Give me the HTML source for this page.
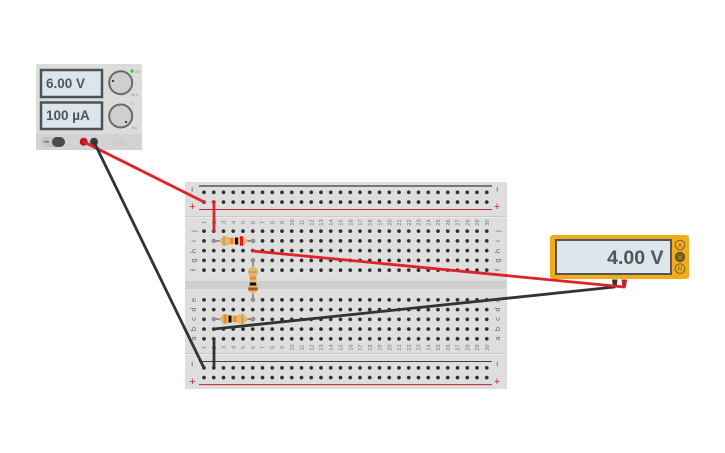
<!DOCTYPE html>
<html><head><meta charset="utf-8"><style>
html,body{margin:0;padding:0;background:#fff}
svg{display:block}
text{font-family:"Liberation Sans",sans-serif}
.n{font-size:5.5px;fill:#777}
.l{font-size:7.500px;fill:#6a6a6a}
</style></head><body>
<svg width="725" height="453" viewBox="0 0 725 453" xmlns="http://www.w3.org/2000/svg">
<defs>
<pattern id="h" x="199.1" y="187.4" width="9.75" height="9.75" patternUnits="userSpaceOnUse"><circle cx="4.9" cy="4.9" r="2.5" fill="#f4f4f4" opacity=".8"/><circle cx="4.9" cy="4.9" r="1.900" fill="#2e2e2e"/></pattern>
<pattern id="h2" x="199.1" y="226.2" width="9.75" height="9.75" patternUnits="userSpaceOnUse"><circle cx="4.9" cy="4.9" r="2.5" fill="#f4f4f4" opacity=".8"/><circle cx="4.9" cy="4.9" r="1.900" fill="#2e2e2e"/></pattern>
<pattern id="h3" x="199.1" y="294.9" width="9.75" height="9.75" patternUnits="userSpaceOnUse"><circle cx="4.9" cy="4.9" r="2.5" fill="#f4f4f4" opacity=".8"/><circle cx="4.9" cy="4.9" r="1.900" fill="#2e2e2e"/></pattern>
<pattern id="h4" x="199.1" y="362.9" width="9.75" height="9.75" patternUnits="userSpaceOnUse"><circle cx="4.9" cy="4.9" r="2.5" fill="#f4f4f4" opacity=".8"/><circle cx="4.9" cy="4.9" r="1.900" fill="#2e2e2e"/></pattern>
<g id="res"><rect x="-19.700" y="-1" width="39.400" height="2" fill="#8f8f8f"/><circle cx="-19.700" cy="0" r="2.200" fill="#8f8f8f"/><circle cx="19.700" cy="0" r="2.200" fill="#8f8f8f"/><path d="M-14.500 0L-10.500 -4.700H-6L-3.500 -3.200H3.500L6 -4.700H10.500L14.500 0L10.500 4.700H6L3.500 3.200H-3.500L-6 4.700H-10.500Z" fill="#e2b878"/></g>
</defs>

<!-- power supply -->
<rect x="36" y="64" width="106" height="86" rx="2" fill="#dcdcdc"/>
<rect x="36" y="134" width="106" height="16" fill="#d3d3d3"/>
<rect x="41" y="70" width="61" height="27" fill="#dce6ea" stroke="#4a5358" stroke-width="2.500"/>
<rect x="41" y="102.500" width="61" height="26.500" fill="#dce6ea" stroke="#4a5358" stroke-width="2.500"/>
<text x="46" y="88" font-size="13.500" font-weight="bold" fill="#4f5559">6.00 V</text>
<text x="46" y="120" font-size="13.500" font-weight="bold" fill="#4f5559">100 µA</text>
<circle cx="120.700" cy="82.700" r="11.500" fill="#cfcfcf" stroke="#6a6a6a" stroke-width="2"/>
<circle cx="113" cy="81" r="1.100" fill="#333"/>
<circle cx="120.700" cy="116" r="11.500" fill="#cfcfcf" stroke="#6a6a6a" stroke-width="2"/>
<circle cx="126" cy="122" r="1.100" fill="#333"/>
<circle cx="132" cy="71" r="1.700" fill="#3ecf3e"/>
<text x="135" y="73" font-size="3.500" fill="#888">CV</text>
<text x="130" y="105" font-size="3.500" fill="#aaa">CC</text>
<text x="131" y="96" font-size="3.500" fill="#888">30 V</text>
<text x="132" y="129" font-size="3.500" fill="#888">5 A</text>
<rect x="41" y="137" width="24" height="10" rx="5" fill="#c4c4c4"/>
<rect x="52" y="137" width="13" height="10" rx="5" fill="#4a4a4a"/>
<rect x="44" y="141" width="5" height="1.500" fill="#777"/>
<text x="114" y="142" font-size="3.500" fill="#bbb">40 DAT</text>
<text x="114" y="146" font-size="3.500" fill="#bbb">SUPPLY</text>
<circle cx="83.700" cy="141.700" r="4" fill="#b8161c"/>
<circle cx="94" cy="141.700" r="4" fill="#3d3d3d"/>

<!-- breadboard -->
<rect x="185" y="182" width="322" height="207" fill="#dedede"/>
<rect x="185" y="216" width="322" height="1" fill="#c9c9c9"/>
<rect x="185" y="217" width="322" height="1" fill="#ececec"/>
<rect x="185" y="281" width="322" height="8" fill="#cfcfcf"/>
<rect x="185" y="353" width="322" height="1" fill="#c9c9c9"/>
<rect x="185" y="354" width="322" height="1" fill="#ececec"/>
<rect x="199" y="185" width="293" height="2" fill="#777"/>
<rect x="199" y="209" width="293" height="1" fill="#b03030"/>
<rect x="199" y="361" width="293" height="1" fill="#444"/>
<rect x="199" y="384" width="293" height="1.200" fill="#c04040"/>
<rect x="199.100" y="187.400" width="292.500" height="19.500" fill="url(#h)"/>
<rect x="199.100" y="226.200" width="292.500" height="48.800" fill="url(#h2)"/>
<rect x="199.100" y="294.900" width="292.500" height="48.800" fill="url(#h3)"/>
<rect x="199.100" y="362.900" width="292.500" height="19.500" fill="url(#h4)"/>

<g fill="#444" font-size="9" text-anchor="middle">
<text transform="translate(195,189.500) rotate(-90)">−</text><text transform="translate(500,189.500) rotate(-90)">−</text><text transform="translate(195,364) rotate(-90)">−</text><text transform="translate(500,364) rotate(-90)">−</text>
</g>
<g fill="#d62828" font-size="11" text-anchor="middle">
<text x="192.300" y="210">+</text><text x="497" y="210">+</text><text x="192.300" y="385">+</text><text x="497" y="385">+</text>
</g>

<!-- column numbers -->
<g class="n" text-anchor="middle">
<text transform="translate(206,222.500) rotate(-90)">1</text><text transform="translate(216,222.500) rotate(-90)">2</text><text transform="translate(225.500,222.500) rotate(-90)">3</text><text transform="translate(235.300,222.500) rotate(-90)">4</text><text transform="translate(245,222.500) rotate(-90)">5</text><text transform="translate(254.800,222.500) rotate(-90)">6</text><text transform="translate(264.500,222.500) rotate(-90)">7</text><text transform="translate(274.300,222.500) rotate(-90)">8</text><text transform="translate(284,222.500) rotate(-90)">9</text><text transform="translate(293.800,222.500) rotate(-90)">10</text>
<text transform="translate(303.500,222.500) rotate(-90)">11</text><text transform="translate(313.300,222.500) rotate(-90)">12</text><text transform="translate(323,222.500) rotate(-90)">13</text><text transform="translate(332.800,222.500) rotate(-90)">14</text><text transform="translate(342.500,222.500) rotate(-90)">15</text><text transform="translate(352.300,222.500) rotate(-90)">16</text><text transform="translate(362,222.500) rotate(-90)">17</text><text transform="translate(371.800,222.500) rotate(-90)">18</text><text transform="translate(381.500,222.500) rotate(-90)">19</text><text transform="translate(391.300,222.500) rotate(-90)">20</text>
<text transform="translate(401,222.500) rotate(-90)">21</text><text transform="translate(410.800,222.500) rotate(-90)">22</text><text transform="translate(420.500,222.500) rotate(-90)">23</text><text transform="translate(430.300,222.500) rotate(-90)">24</text><text transform="translate(440,222.500) rotate(-90)">25</text><text transform="translate(449.800,222.500) rotate(-90)">26</text><text transform="translate(459.500,222.500) rotate(-90)">27</text><text transform="translate(469.300,222.500) rotate(-90)">28</text><text transform="translate(479,222.500) rotate(-90)">29</text><text transform="translate(488.800,222.500) rotate(-90)">30</text>
<text transform="translate(206,347.500) rotate(-90)">1</text><text transform="translate(216,347.500) rotate(-90)">2</text><text transform="translate(225.500,347.500) rotate(-90)">3</text><text transform="translate(235.300,347.500) rotate(-90)">4</text><text transform="translate(245,347.500) rotate(-90)">5</text><text transform="translate(254.800,347.500) rotate(-90)">6</text><text transform="translate(264.500,347.500) rotate(-90)">7</text><text transform="translate(274.300,347.500) rotate(-90)">8</text><text transform="translate(284,347.500) rotate(-90)">9</text><text transform="translate(293.800,347.500) rotate(-90)">10</text>
<text transform="translate(303.500,347.500) rotate(-90)">11</text><text transform="translate(313.300,347.500) rotate(-90)">12</text><text transform="translate(323,347.500) rotate(-90)">13</text><text transform="translate(332.800,347.500) rotate(-90)">14</text><text transform="translate(342.500,347.500) rotate(-90)">15</text><text transform="translate(352.300,347.500) rotate(-90)">16</text><text transform="translate(362,347.500) rotate(-90)">17</text><text transform="translate(371.800,347.500) rotate(-90)">18</text><text transform="translate(381.500,347.500) rotate(-90)">19</text><text transform="translate(391.300,347.500) rotate(-90)">20</text>
<text transform="translate(401,347.500) rotate(-90)">21</text><text transform="translate(410.800,347.500) rotate(-90)">22</text><text transform="translate(420.500,347.500) rotate(-90)">23</text><text transform="translate(430.300,347.500) rotate(-90)">24</text><text transform="translate(440,347.500) rotate(-90)">25</text><text transform="translate(449.800,347.500) rotate(-90)">26</text><text transform="translate(459.500,347.500) rotate(-90)">27</text><text transform="translate(469.300,347.500) rotate(-90)">28</text><text transform="translate(479,347.500) rotate(-90)">29</text><text transform="translate(488.800,347.500) rotate(-90)">30</text>
</g>
<!-- row letters -->
<g class="l" text-anchor="middle">
<text transform="translate(196,231) rotate(-90)">j</text><text transform="translate(196,241) rotate(-90)">i</text><text transform="translate(196,251) rotate(-90)">h</text><text transform="translate(196,260.500) rotate(-90)">g</text><text transform="translate(196,270) rotate(-90)">f</text>
<text transform="translate(196,300) rotate(-90)">e</text><text transform="translate(196,309.500) rotate(-90)">d</text><text transform="translate(196,319) rotate(-90)">c</text><text transform="translate(196,329) rotate(-90)">b</text><text transform="translate(196,338.500) rotate(-90)">a</text>
<text transform="translate(500,231) rotate(-90)">j</text><text transform="translate(500,241) rotate(-90)">i</text><text transform="translate(500,251) rotate(-90)">h</text><text transform="translate(500,260.500) rotate(-90)">g</text><text transform="translate(500,270) rotate(-90)">f</text>
<text transform="translate(500,300) rotate(-90)">e</text><text transform="translate(500,309.500) rotate(-90)">d</text><text transform="translate(500,319) rotate(-90)">c</text><text transform="translate(500,329) rotate(-90)">b</text><text transform="translate(500,338.500) rotate(-90)">a</text>
</g>

<!-- resistors -->
<g transform="translate(233.500,241)"><use href="#res"/><rect x="-10" y="-4.700" width="1" height="9.400" fill="#a89030"/><rect x="-3.500" y="-3.200" width="3" height="6.400" fill="#f08c1a"/><rect x="1.500" y="-3.500" width="3" height="7" fill="#111"/><rect x="6.500" y="-4.700" width="3" height="9.400" fill="#e01818"/></g>
<g transform="translate(253,280) rotate(90)"><use href="#res"/><rect x="-8.500" y="-4.700" width="1" height="9.400" fill="#a89030"/><rect x="-3.500" y="-3.200" width="3" height="6.400" fill="#f08c1a"/><rect x="2.500" y="-3.200" width="3" height="6.400" fill="#111"/><rect x="7.500" y="-4.700" width="3" height="9.400" fill="#a05a20"/></g>
<g transform="translate(233.500,319)"><use href="#res"/><rect x="-10" y="-4.700" width="3" height="9.400" fill="#f08c1a"/><rect x="-5" y="-3.500" width="3" height="7" fill="#111"/><rect x="0" y="-3.200" width="3" height="6.400" fill="#f08c1a"/><rect x="8.300" y="-4.700" width="1" height="9.400" fill="#a89030"/></g>

<!-- multimeter -->
<rect x="550" y="235" width="139" height="44" rx="3" fill="#f0ac1c"/>
<rect x="556" y="240" width="115" height="34" fill="#dce6ea" stroke="#555" stroke-width="2"/>
<text x="663.500" y="264" font-size="19.500" font-weight="bold" fill="#4f5559" text-anchor="end">4.00 V</text>
<circle cx="680" cy="245" r="4.800" fill="none" stroke="#7a6320" stroke-width="1"/>
<text x="680" y="247.500" font-size="6.500" fill="#7a6320" text-anchor="middle">A</text>
<circle cx="680" cy="257" r="5.200" fill="#6a5a28"/>
<text x="680" y="259.500" font-size="6.500" fill="#f0ac1c" text-anchor="middle">V</text>
<circle cx="680" cy="268.700" r="4.800" fill="none" stroke="#7a6320" stroke-width="1"/>
<text x="680" y="271.200" font-size="6.500" fill="#7a6320" text-anchor="middle">R</text>
<path d="M612 279.500H617.500L616.500 287H613Z" fill="#333"/>
<path d="M621.500 279.500H627L626 287H622.500Z" fill="#b8242a"/>

<!-- wires -->
<g fill="none" stroke-width="2.800" stroke-linecap="round">
<line x1="214" y1="329" x2="614.500" y2="287" stroke="#333"/>
<line x1="253" y1="251" x2="624.300" y2="287" stroke="#e0222a"/>
<line x1="214" y1="202" x2="214" y2="231" stroke="#e0222a"/>
<line x1="214" y1="339" x2="214" y2="368" stroke="#333"/>
<line x1="84" y1="142" x2="204" y2="202" stroke="#e0222a"/>
<line x1="94" y1="142" x2="204" y2="368" stroke="#333"/>
</g>
</svg>
</body></html>
